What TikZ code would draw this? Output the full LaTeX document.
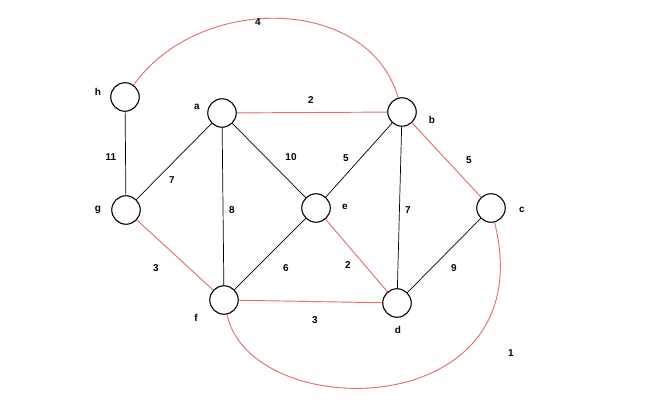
\documentclass[tikz,border=0pt]{standalone}
\usepackage{fontspec}
\setmainfont{Liberation Sans}
\definecolor{rl}{RGB}{228,110,110}
\begin{document}
\begin{tikzpicture}[x=0.03cm,y=-0.03cm,
  vx/.style={circle,draw=black,line width=0.8pt,minimum size=0.85cm,inner sep=0pt,fill=white},
  lb/.style={font=\bfseries\fontsize{8.5}{10}\selectfont,inner sep=0pt},
  bk/.style={draw=black,line width=0.6pt},
  rd/.style={draw=rl,line width=0.8pt}]
\useasboundingbox (0,0) rectangle (652,404);
\node[vx] (h) at (125,97) {};
\node[vx] (a) at (222,113) {};
\node[vx] (b) at (402,112) {};
\node[vx] (g) at (126,210) {};
\node[vx] (e) at (316,208) {};
\node[vx] (c) at (491,208) {};
\node[vx] (f) at (224,300) {};
\node[vx] (d) at (397,303) {};
\path[bk] (h)--(g) (g)--(a) (a)--(f) (a)--(e) (e)--(b) (b)--(d) (e)--(f) (d)--(c);
\path[rd] (a)--(b) (b)--(c) (e)--(d) (f)--(d) (g)--(f);
\path[rd] (h) .. controls (200,-8) and (370,-4) .. (b);
\path[rd] (f) .. controls (250,425) and (545,425) .. (c);
\foreach \n in {h,a,b,g,e,c,f,d} \node[vx] at (\n) {};
\node[lb] (lh) at (98,92) {h};
\node[lb] (la) at (197,107) {a};
\node[lb] (lbb) at (432,120) {b};
\node[lb] (lg) at (98,210) {g};
\node[lb] (le) at (345,207) {e};
\node[lb] (lc) at (522,210) {c};
\node[lb] (lf) at (196,318) {f};
\node[lb] (ld) at (398,330) {d};
\node[lb] (w1) at (111,157) {11};
\node[lb] (w2) at (172,180) {7};
\node[lb] (w3) at (232,210) {8};
\node[lb] (w4) at (291,157) {10};
\node[lb] (w5) at (311,100) {2};
\node[lb] (w6) at (346,158) {5};
\node[lb] (w7) at (408,210) {7};
\node[lb] (w8) at (469,160) {5};
\node[lb] (w9) at (286,268) {6};
\node[lb] (w10) at (348,265) {2};
\node[lb] (w11) at (315,320) {3};
\node[lb] (w12) at (454,268) {9};
\node[lb] (w13) at (156,268) {3};
\node[lb] (w14) at (258,22) {4};
\node[lb] (w15) at (511,353) {1};
\end{tikzpicture}
\end{document}
